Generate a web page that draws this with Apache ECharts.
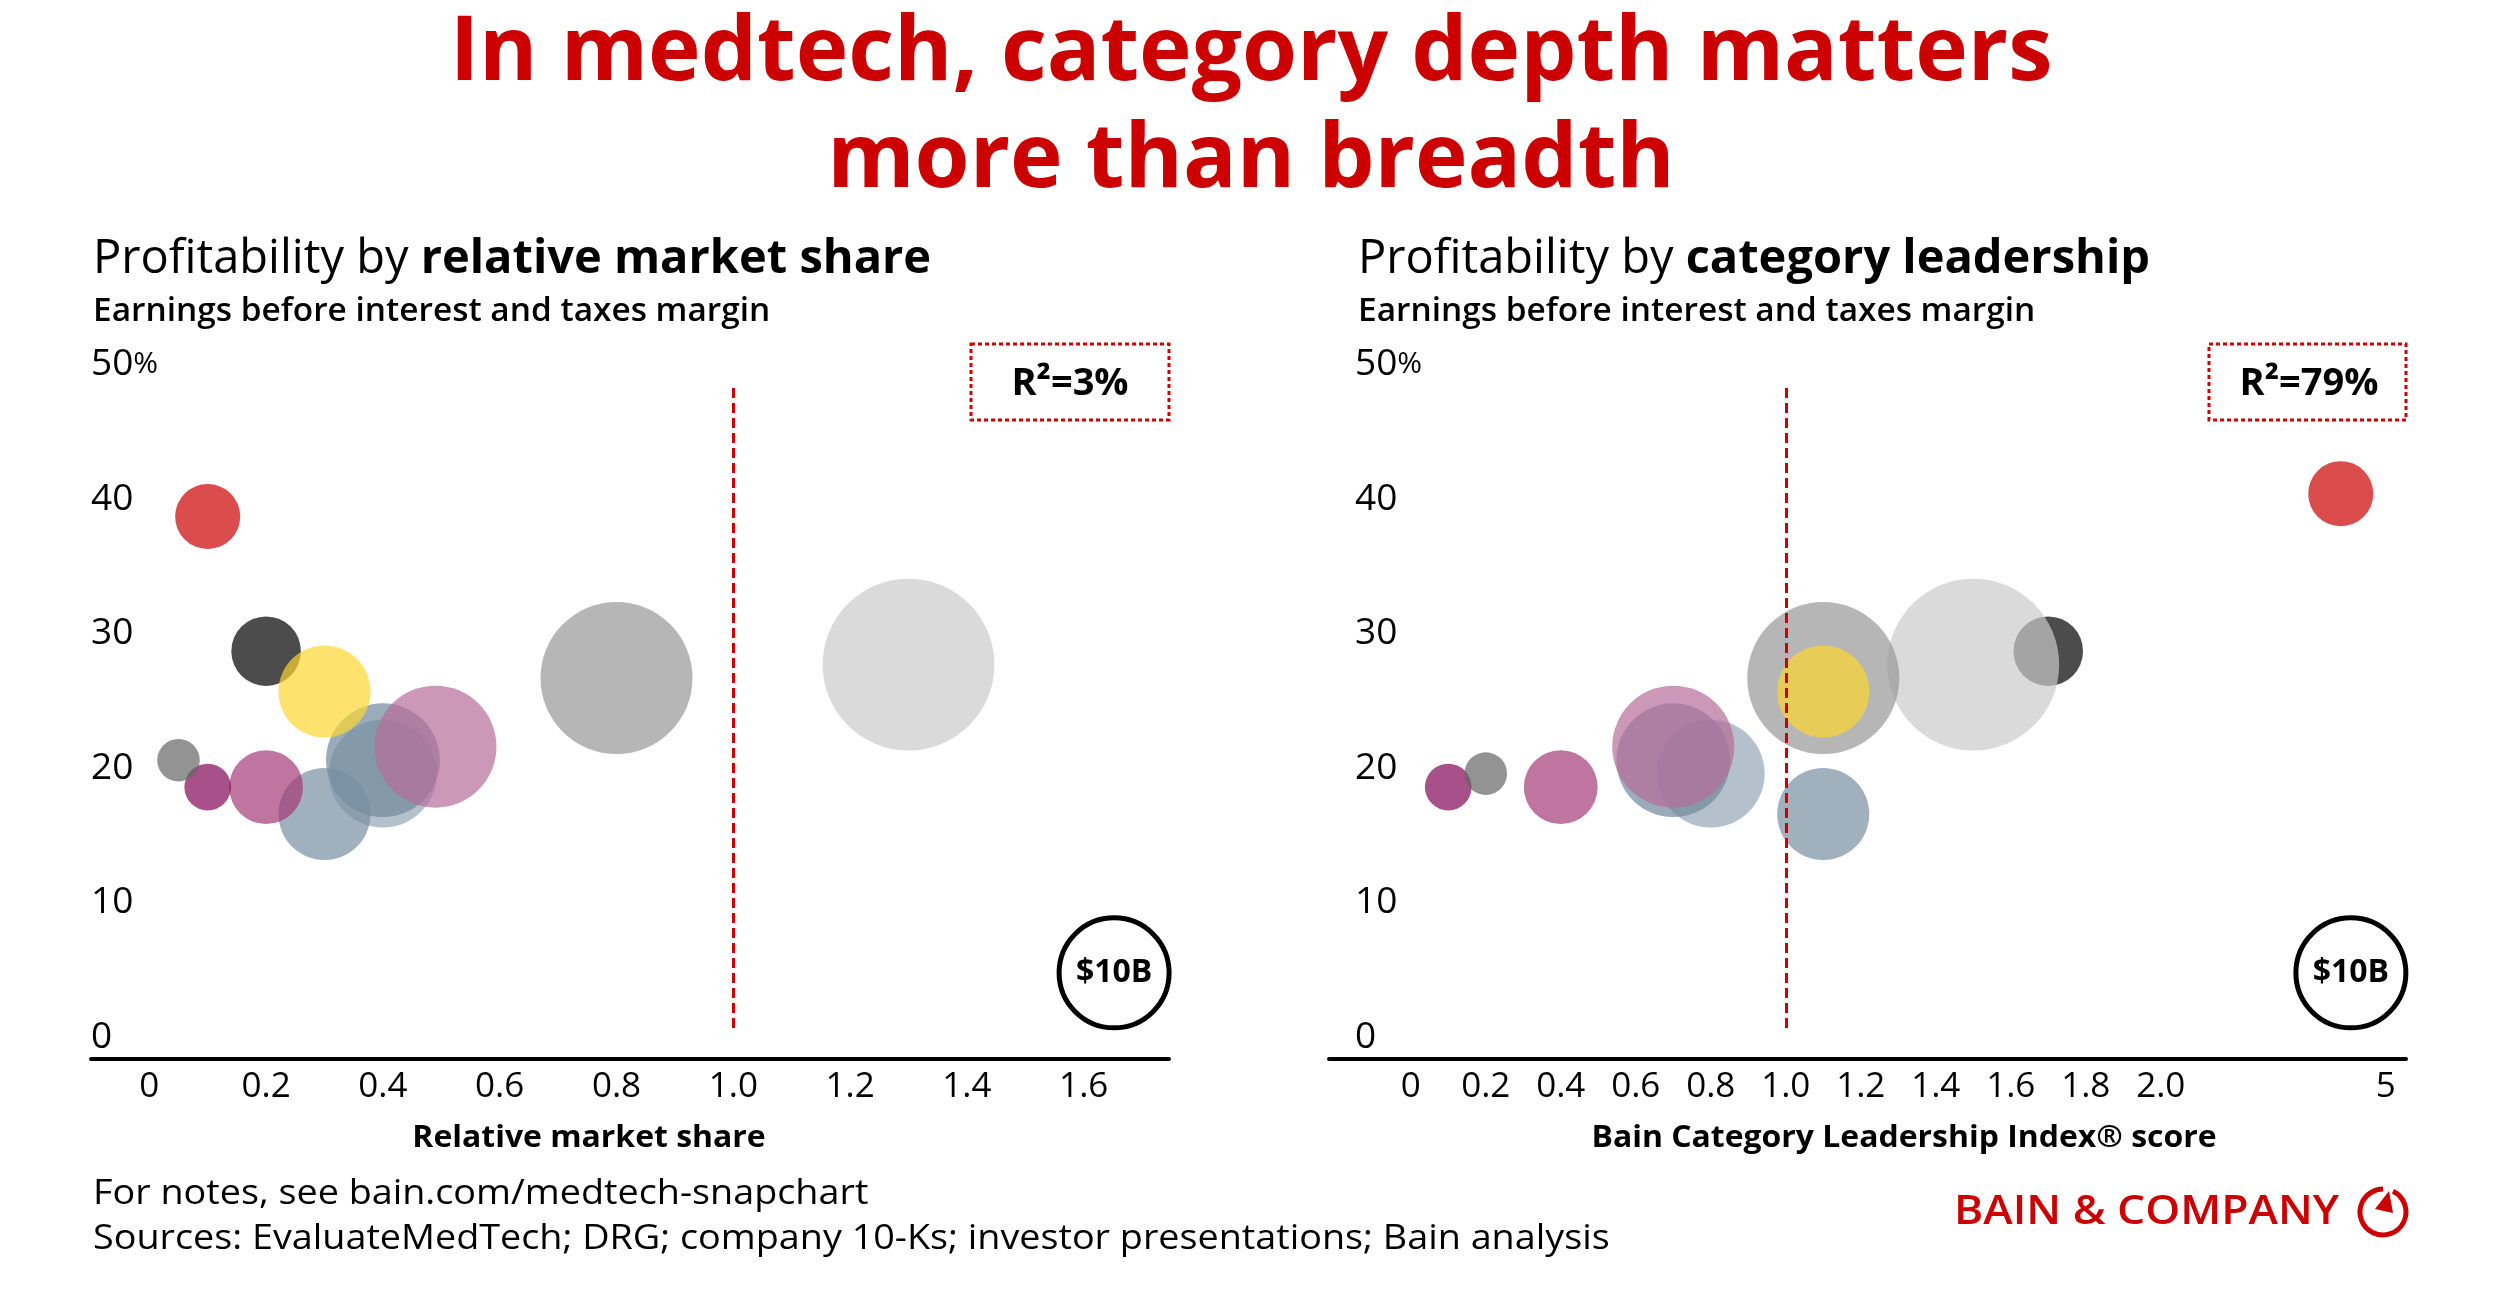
<!DOCTYPE html>
<html>
<head>
<meta charset="utf-8">
<title>In medtech, category depth matters more than breadth</title>
<script src="https://cdn.jsdelivr.net/npm/echarts@6/dist/echarts.min.js"></script>
<style>
  html, body { margin: 0; padding: 0; background: #fff; }
  #chart { width: 2501px; height: 1311px; }
</style>
</head>
<body>
<div id="chart"></div>
<script>
// companies in drawing order (later ones sit on top)
const companies = ['Co. 1', 'Co. 2', 'Co. 3', 'Co. 4', 'Co. 5', 'Co. 6',
  'Co. 7', 'Co. 8', 'Co. 9', 'Co. 10', 'Co. 11', 'Co. 12']
// relative market share (left chart x)
const marketShare = [0.2, 1.3, 0.8, 0.4, 0.4, 0.49, 0.3, 0.3, 0.2, 0.1, 0.05, 0.1]
// Bain Category Leadership Index score (right chart x)
const leadershipScore = [1.7, 1.5, 1.1, 0.8, 0.7, 0.7, 1.1, 1.1, 0.4, 0.1, 0.2, 4.88]
// EBIT margin, %
const ebitLeft = [30.3, 29.3, 28.3, 21.2, 22.2, 23.2, 18.2, 27.3, 20.2, 20.2, 22.2, 40.3]
const ebitRight = [30.3, 29.3, 28.3, 21.2, 22.2, 23.2, 18.2, 27.3, 20.2, 20.2, 21.2, 42.0]
// revenue, $B (bubble area)
const revenueB = [4.0, 24.4, 19.1, 9.6, 10.7, 12.3, 7.0, 7.0, 4.5, 1.8, 1.5, 3.5]
const sizeKeyB = 10

const leftTicks = [0, 0.2, 0.4, 0.6, 0.8, 1.0, 1.2, 1.4, 1.6]
const rightTicks = [0, 0.2, 0.4, 0.6, 0.8, 1.0, 1.2, 1.4, 1.6, 1.8, 2.0, 5]

const palette = ['#000000', '#cacaca', '#979797', '#94a6b6', '#6f889b', '#b66c9a',
  '#778ea1', '#fcd630', '#a43a77', '#830558', '#656565', '#cc0000']

const RED = '#cc0000'
const FONT = '"Open Sans", Roboto, sans-serif'

// right axis is broken after 2.0: scores above 2.2 are shifted left
const breakFrom = 2.2
const breakShift = 2.4
const toPos = v => (v > breakFrom ? v - breakShift : v)

const sizeOf = rev => 110 * Math.sqrt(rev / 10)

function bubbles (xs, ys) {
  return companies.map((name, i) => ({
    name: name,
    value: [xs[i], ys[i], revenueB[i]],
    itemStyle: { color: palette[i] }
  }))
}

const fmtTick = v => (v === 0 ? '0' : v.toFixed(1))

function xAxisOf (grid, min, max, ticks, formatter) {
  return {
    type: 'value', gridIndex: grid, min: min, max: max,
    axisLine: { show: true, onZero: false, lineStyle: { color: '#000', width: 4 } },
    axisTick: { show: false },
    splitLine: { show: false },
    axisLabel: {
      customValues: ticks, formatter: formatter, margin: 11,
      color: '#000', fontFamily: FONT, fontSize: 35
    }
  }
}

function yAxisOf (grid, margin) {
  return {
    type: 'value', gridIndex: grid, min: 0, max: 50, interval: 10,
    axisLine: { show: false },
    axisTick: { show: false },
    splitLine: { show: false },
    axisLabel: {
      inside: true, margin: margin, align: 'left', verticalAlign: 'bottom',
      padding: [0, 0, 3, 0],
      color: '#000', fontFamily: FONT, fontSize: 37,
      formatter: v => (v === 50 ? '50{p|%}' : String(v)),
      rich: { p: { fontFamily: FONT, fontSize: 30, color: '#000' } }
    }
  }
}

function thresholdLine () {
  return {
    silent: true, symbol: 'none', animation: false,
    label: { show: false },
    lineStyle: { color: RED, type: [10, 5], width: 3 },
    data: [[{ coord: [1, 2.3] }, { coord: [1, 50] }]]
  }
}

function keySeries (grid, x) {
  return {
    type: 'scatter', xAxisIndex: grid, yAxisIndex: grid, silent: true,
    data: [[x, 6.4, sizeKeyB]],
    symbolSize: v => sizeOf(v[2]),
    itemStyle: { color: '#fff', borderColor: '#000', borderWidth: 5, opacity: 1 },
    label: {
      show: true, position: 'inside', formatter: '$10B',
      color: '#000', fontFamily: FONT, fontWeight: 'bold', fontSize: 32
    }
  }
}

function text (x, y, str, font, opts) {
  return Object.assign({
    type: 'text', x: x, y: y,
    style: { text: str, fill: '#000', verticalAlign: 'middle', font: font + ' ' + FONT }
  }, opts || {})
}

function subtitle (x, bold) {
  return {
    type: 'text', x: x, y: 260,
    style: {
      text: '{r|Profitability by }{b|' + bold + '}', verticalAlign: 'middle',
      rich: {
        r: { fontFamily: FONT, fontSize: 47, fontWeight: 500, color: '#000' },
        b: { fontFamily: FONT, fontSize: 47, fontWeight: 'bold', color: '#000' }
      }
    }
  }
}

const chart = echarts.init(document.getElementById('chart'))

const title1 = text(1251, 55, 'In medtech, category depth matters', 'bold 89px')
const title2 = text(1251, 162, 'more than breadth', 'bold 89px')
title1.style.fill = RED; title1.style.align = 'center'
title2.style.fill = RED; title2.style.align = 'center'

const r2Left = text(1070, 384, 'R²=3%', 'bold 38px')
const r2Right = text(2309, 384, 'R²=79%', 'bold 38px')
r2Left.style.align = 'center'
r2Right.style.align = 'center'

const nameLeft = text(589, 1138, 'Relative market share', 'bold 31px', { scaleX: 1.03 })
const nameRight = text(1904, 1138, 'Bain Category Leadership Index® score', 'bold 31px', { scaleX: 1.03 })
nameLeft.style.align = 'center'
nameRight.style.align = 'center'

const logoText = text(1954, 1213, 'BAIN & COMPANY', '600 39px', { scaleX: 1.14 })
logoText.style.fill = RED

chart.setOption({
  backgroundColor: '#fff',
  animation: false,
  grid: [
    { left: 91, width: 1078, top: 386, height: 673 },
    { left: 1329, width: 1077, top: 386, height: 673 }
  ],
  xAxis: [
    xAxisOf(0, -0.0998, 1.746, leftTicks, fmtTick),
    xAxisOf(1, -0.218, 2.654, rightTicks.map(toPos), p => (p > breakFrom ? String(Math.round(p + breakShift)) : fmtTick(p)))
  ],
  yAxis: [yAxisOf(0, 0), yAxisOf(1, 26)],
  series: [
    {
      type: 'scatter', xAxisIndex: 0, yAxisIndex: 0, silent: true,
      data: bubbles(marketShare, ebitLeft),
      symbolSize: v => sizeOf(v[2]),
      itemStyle: { opacity: 0.7 },
      markLine: thresholdLine()
    },
    {
      type: 'scatter', xAxisIndex: 1, yAxisIndex: 1, silent: true,
      data: bubbles(leadershipScore.map(toPos), ebitRight),
      symbolSize: v => sizeOf(v[2]),
      itemStyle: { opacity: 0.7 },
      markLine: thresholdLine()
    },
    keySeries(0, 1.652),
    keySeries(1, 2.507)
  ],
  graphic: {
    elements: [
      title1,
      title2,
      subtitle(93, 'relative market share'),
      subtitle(1358, 'category leadership'),
      text(93, 312, 'Earnings before interest and taxes margin', '600 32px', { scaleX: 1.044 }),
      text(1358, 312, 'Earnings before interest and taxes margin', '600 32px', { scaleX: 1.044 }),
      {
        type: 'rect', shape: { x: 971, y: 344, width: 198, height: 76 },
        style: { fill: 'none', stroke: RED, lineWidth: 3, lineDash: [4, 3] }
      },
      {
        type: 'rect', shape: { x: 2209, y: 344, width: 197, height: 76 },
        style: { fill: 'none', stroke: RED, lineWidth: 3, lineDash: [4, 3] }
      },
      r2Left,
      r2Right,
      nameLeft,
      nameRight,
      text(93, 1194, 'For notes, see bain.com/medtech-snapchart', '34px', { scaleX: 1.11 }),
      text(93, 1239, 'Sources: EvaluateMedTech; DRG; company 10-Ks; investor presentations; Bain analysis', '34px', { scaleX: 1.11 }),
      logoText,
      {
        type: 'arc',
        shape: { cx: 2383, cy: 1212, r: 23, startAngle: -Math.PI / 2 + 0.45, endAngle: Math.PI * 1.5, clockwise: true },
        style: { fill: 'none', stroke: RED, lineWidth: 5 }
      },
      {
        type: 'polygon', shape: { points: [[2375, 1209], [2389, 1191], [2393, 1213]] },
        style: { fill: RED }
      }
    ]
  }
})
</script>
</body>
</html>
